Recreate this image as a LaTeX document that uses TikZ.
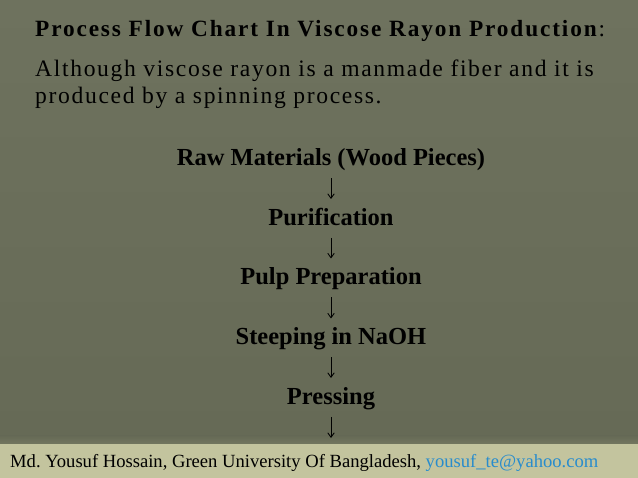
\documentclass[tikz,border=0pt]{standalone}
\usepackage{fontspec}
\setmainfont{Liberation Serif}
\newfontfamily\spacedfont[LetterSpace=7]{Liberation Serif}
\newfontfamily\titlefont[LetterSpace=8]{Liberation Serif}
\usetikzlibrary{arrows.meta}
\definecolor{bgtop}{RGB}{110,114,94}
\definecolor{bgbot}{RGB}{102,106,86}
\definecolor{bandcol}{RGB}{195,196,158}
\definecolor{banddark}{RGB}{95,99,80}
\definecolor{mailblue}{RGB}{40,140,205}
\tikzset{
  stepitem/.style={anchor=base, inner sep=0pt, font=\fontsize{24.5}{28}\selectfont\bfseries, text=black},
  flowarrow/.style={draw=black, line width=0.85pt, -{Straight Barb[length=4.5pt,width=6.5pt]}, shorten <=12.5pt, shorten >=26.5pt},
  headtext/.style={anchor=base west, inner sep=0pt, text=black},
}
\begin{document}
\frenchspacing
\begin{tikzpicture}[x=1pt,y=-1pt]
\useasboundingbox (0,0) rectangle (638,478);
\shade[top color=bgtop, bottom color=bgbot] (0,0) rectangle (638,438);
\shade[top color=bgbot, bottom color=banddark!80!bandcol] (0,436) rectangle (638,444);
\fill[bandcol] (0,444) rectangle (638,478);
\node[headtext, font=\titlefont\fontsize{23.3}{26}\selectfont\bfseries] (title) at (35,37) {Process Flow Chart In Viscose Rayon Production\textmd{:}};
\node[headtext, font=\spacedfont\fontsize{23.6}{26}\selectfont] (intro1) at (35,77) {Although viscose rayon is a manmade fiber and it is};
\node[headtext, font=\spacedfont\fontsize{23.6}{26}\selectfont] (intro2) at (35,104) {produced by a spinning process.};
\node[stepitem] (r1) at (331,166) {Raw Materials (Wood Pieces)};
\node[stepitem] (r2) at (331,225.5) {Purification};
\node[stepitem] (r3) at (331,285) {Pulp Preparation};
\node[stepitem] (r4) at (331,345) {Steeping in NaOH};
\node[stepitem] (r5) at (331,404.5) {Pressing};
\coordinate (r6) at (331,464.5);
\draw[flowarrow] (r1.base) -- (r2.base);
\draw[flowarrow] (r2.base) -- (r3.base);
\draw[flowarrow] (r3.base) -- (r4.base);
\draw[flowarrow] (r4.base) -- (r5.base);
\draw[flowarrow] (r5.base) -- (r6);
\node[headtext, font=\fontsize{18.6}{21}\selectfont] (foot) at (10,468) {Md. Yousuf Hossain, Green University Of Bangladesh, \textcolor{mailblue}{yousuf\_te@yahoo.com}};
\end{tikzpicture}
\end{document}
